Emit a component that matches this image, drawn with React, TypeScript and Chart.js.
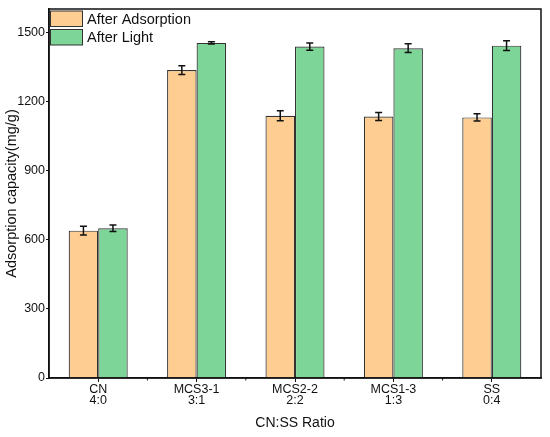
import React, { useEffect, useRef } from "react";
import { Chart, registerables } from "chart.js";

Chart.register(...registerables);

const categories: string[][] = [
  ["CN", "4:0"],
  ["MCS3-1", "3:1"],
  ["MCS2-2", "2:2"],
  ["MCS1-3", "1:3"],
  ["SS", "0:4"],
];
const seriesNames = ["After Adsorption", "After Light"];
const afterAdsorption = [639, 1335, 1137, 1134, 1130];
const afterAdsorptionErr = [19, 19, 22, 17, 16];
const afterLight = [649, 1453, 1437, 1430, 1441];
const afterLightErr = [14, 5, 16, 19, 21];
const yTicks = [0, 300, 600, 900, 1200, 1500];
const yMax = 1600;

const FONT = "'Liberation Sans', Arial, sans-serif";
const fills = ["#FECD91", "#7DD697"];
const edge = "#333333";
const errors = [afterAdsorptionErr, afterLightErr];

const errorBarPlugin = {
  id: "errorBars",
  afterDatasetsDraw(chart: any) {
    const ctx = chart.ctx;
    const yScale = chart.scales.y;
    ctx.save();
    ctx.strokeStyle = "#111";
    ctx.lineWidth = 1.5;
    chart.data.datasets.forEach((ds: any, di: number) => {
      const meta = chart.getDatasetMeta(di);
      meta.data.forEach((bar: any, i: number) => {
        const v = ds.data[i];
        const e = errors[di][i];
        const x = bar.x;
        const yTop = yScale.getPixelForValue(v + e);
        const yBot = yScale.getPixelForValue(v - e);
        const cap = 3.5;
        ctx.beginPath();
        ctx.moveTo(x, yTop);
        ctx.lineTo(x, yBot);
        ctx.moveTo(x - cap, yTop);
        ctx.lineTo(x + cap, yTop);
        ctx.moveTo(x - cap, yBot);
        ctx.lineTo(x + cap, yBot);
        ctx.stroke();
      });
    });
    ctx.restore();
  },
};

const framePlugin = {
  id: "frameLegend",
  afterDraw(chart: any) {
    const { ctx, chartArea } = chart;
    const { left, right, top, bottom } = chartArea;
    ctx.save();
    ctx.strokeStyle = "#111";
    ctx.lineWidth = 1.5;
    ctx.strokeRect(left, top, right - left, bottom - top);
    const n = categories.length;
    const w = (right - left) / n;
    ctx.lineWidth = 1;
    ctx.beginPath();
    for (let i = 1; i < n; i++) {
      const x = left + w * i;
      ctx.moveTo(x, bottom);
      ctx.lineTo(x, bottom + 2.5);
    }
    ctx.stroke();
    const boxX = left + 1.5;
    const boxW = 32;
    const boxH = 15.5;
    ctx.font = `14.5px ${FONT}`;
    ctx.textBaseline = "alphabetic";
    ctx.textAlign = "left";
    seriesNames.forEach((name, i) => {
      const y = top + 2 + i * 18.5;
      ctx.fillStyle = fills[i];
      ctx.fillRect(boxX, y, boxW, boxH);
      ctx.strokeStyle = edge;
      ctx.lineWidth = 1;
      ctx.strokeRect(boxX, y, boxW, boxH);
      ctx.fillStyle = "#111";
      ctx.fillText(name, left + 38, y + 12.8);
    });
    ctx.restore();
  },
};

export default function App() {
  const ref = useRef<HTMLCanvasElement>(null);
  useEffect(() => {
    if (!ref.current) return;
    const chart = new Chart(ref.current, {
      type: "bar",
      data: {
        labels: categories,
        datasets: [
          {
            label: seriesNames[0],
            data: afterAdsorption,
            backgroundColor: fills[0],
            borderColor: edge,
            borderWidth: 1.2,
            categoryPercentage: 0.6,
            barPercentage: 1,
          },
          {
            label: seriesNames[1],
            data: afterLight,
            backgroundColor: fills[1],
            borderColor: edge,
            borderWidth: 1.2,
            categoryPercentage: 0.6,
            barPercentage: 1,
          },
        ],
      },
      options: {
        responsive: false,
        animation: false,
        devicePixelRatio: 1,
        layout: { padding: { left: 0, right: 9, top: 9, bottom: 0 } },
        plugins: {
          legend: { display: false },
          tooltip: { enabled: false },
        },
        scales: {
          x: {
            grid: {
              display: true,
              drawOnChartArea: false,
              offset: false,
              tickLength: 4,
              color: "#111",
              lineWidth: 1,
            },
            border: { display: true, color: "#111", width: 1.5 },
            ticks: {
              color: "#111",
              padding: 2,
              font: { family: FONT, size: 12.5, lineHeight: 0.9 },
              maxRotation: 0,
              autoSkip: false,
            },
            title: {
              display: true,
              text: "CN:SS Ratio",
              color: "#111",
              font: { family: FONT, size: 14 },
              padding: { top: 0, bottom: 5 },
            },
            afterFit(scale: any) {
              scale.height = 59;
            },
          },
          y: {
            min: 0,
            max: yMax,
            afterBuildTicks(scale: any) {
              scale.ticks = yTicks.map((v) => ({ value: v }));
            },
            grid: {
              display: true,
              drawOnChartArea: false,
              tickLength: 3,
              color: "#111",
              lineWidth: 1,
            },
            border: { display: true, color: "#111", width: 1.5 },
            ticks: {
              color: "#111",
              padding: 1,
              font: { family: FONT, size: 12.5 },
              callback: (v: any) => String(v),
            },
            title: {
              display: true,
              text: "Adsorption capacity(mg/g)",
              color: "#111",
              font: { family: FONT, size: 14.5 },
              padding: { top: 3, bottom: 0 },
            },
            afterFit(scale: any) {
              scale.width = 49;
            },
          },
        },
      },
      plugins: [errorBarPlugin, framePlugin],
    } as any);
    return () => chart.destroy();
  }, []);
  return (
    <div style={{ position: "fixed", left: 0, top: 0, width: 550, height: 437, background: "#fff" }}>
      <canvas ref={ref} width={550} height={437} style={{ width: 550, height: 437, display: "block" }} />
    </div>
  );
}
